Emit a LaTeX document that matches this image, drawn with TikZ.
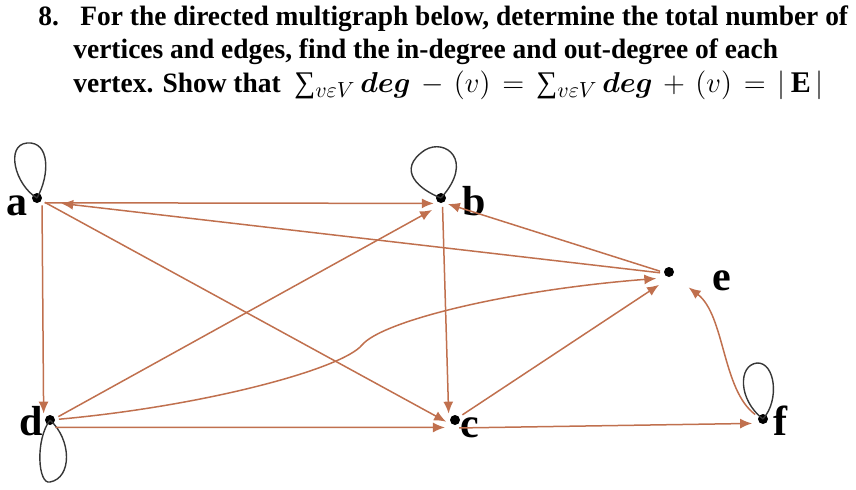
\documentclass[tikz,border=0pt]{standalone}
\usepackage{amsmath}
\usepackage{fontspec}
\setmainfont{Liberation Serif}
\newfontfamily\headfont[FakeStretch=0.98]{Liberation Serif}
\usepackage{tikz}
\usetikzlibrary{arrows,arrows.meta}
\definecolor{edgecol}{RGB}{192,112,78}
\definecolor{loopcol}{RGB}{55,55,55}
\tikzset{
  dot node/.style={circle,fill=black,inner sep=0pt,minimum size=5pt,outer sep=2pt},
  name node/.style={font=\fontsize{21}{21}\selectfont\bfseries,anchor=base,inner sep=0pt},
  head line/.style={font=\headfont\fontsize{14}{14}\selectfont\bfseries,anchor=base west,inner sep=0pt},
  arc/.style={draw=edgecol,line width=0.75pt},
  self loop/.style={-,draw=loopcol,line width=0.7pt}
}

\begin{document}
\begin{tikzpicture}[x=0.5pt,y=-0.5pt,->,>={Latex[length=6pt,width=5pt]}]
  \useasboundingbox (0,0) rectangle (856,489);
  \node [head line] (num) at (38,25) {8.};
  \node [head line] (line1) at (80,25) {For the directed multigraph below, determine the total number of};
  \node [head line] (line2) at (73,58) {vertices and edges, find the in-degree and out-degree of each};
  \node [head line] (line3) at (73,92) {vertex. Show that \ {\fontsize{15}{15}\selectfont\medmuskip=6.5mu\thickmuskip=7.5mu{\mdseries ∑}$_{v\varepsilon V}\,\boldsymbol{deg}-(v)={}${\mdseries ∑}$_{v\varepsilon V}\,\boldsymbol{deg}+(v)=|\,\mathbf{E}\,|$}};

  \node [dot node] (a) at (37,198) {};
  \node [dot node] (b) at (441,198) {};
  \node [dot node] (c) at (455,420) {};
  \node [dot node] (d) at (50,420) {};
  \node [dot node] (e) at (669,272) {};
  \node [dot node] (f) at (763,419) {};
  \node [name node] (la) at (17,215) {a};
  \node [name node] (lb) at (474,215) {b};
  \node [name node] (lc) at (470,437) {c};
  \node [name node] (ld) at (31,435) {d};
  \node [name node] (le) at (722,290) {e};
  \node [name node] (lf) at (780,435) {f};

  \draw [self loop] (a.center) .. controls (15,185) and (5,145) .. (27,143) .. controls (50,141) and (50,175) .. (a.center);
  \draw [self loop] (b.center) .. controls (420,190) and (395,170) .. (425,150) .. controls (445,138) and (475,160) .. (b.center);
  \draw [self loop] (d.center) .. controls (35,440) and (38,485) .. (50,482) .. controls (72,478) and (72,440) .. (d.center);
  \draw [self loop] (f.center) .. controls (738,400) and (738,365) .. (757,363) .. controls (775,362) and (780,400) .. (f.center);

  \draw [arc] (a.-32) -- (b.217);
  \draw [arc,shorten >=8pt] (e.185) -- (a.-23);
  \draw [arc] (a.-56) -- (d.135);
  \draw [arc] (a.-29) -- (c.191);
  \draw [arc,shorten >=3.5pt] (d.22) -- (b.252);
  \draw [arc,shorten >=3pt] (d.5) .. controls (205,406) and (342,369) .. (362,345) .. controls (382,321) and (508,290) .. (e.222);
  \draw [arc,shorten >=2.5pt] (d.-54) -- (c.236);
  \draw [arc] (b.-80) -- (c.135);
  \draw [arc] (e.175) -- (b.-41);
  \draw [arc,shorten >=4pt] (c.35) -- (e.249);
  \draw [arc,shorten >=1.5pt] (c.-62) -- (f.209);
  \draw [arc,shorten >=8pt] (f.150) .. controls (722,390) and (725,315) .. (e.-40);
\end{tikzpicture}
\end{document}
